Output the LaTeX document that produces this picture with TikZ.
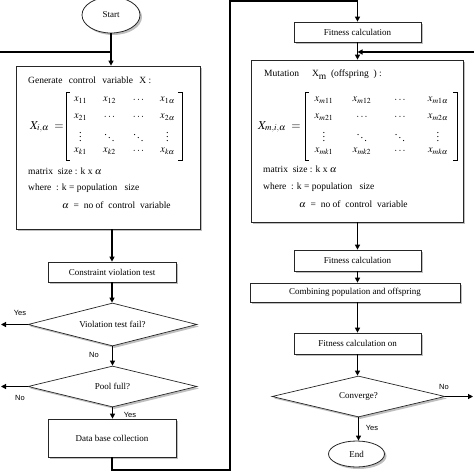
\documentclass[tikz,border=0pt]{standalone}
\usepackage{mathptmx}
\usepackage[no-math]{fontspec}
\setmainfont{Liberation Serif}
\newfontfamily\lblfont{Liberation Sans}
\usetikzlibrary{shapes.geometric,arrows.meta,shadows,matrix}
\newcommand\wsp{\hspace{6.5pt}}
\begin{document}
\begin{tikzpicture}[x=1pt,y=-1pt,
  shade/.style={drop shadow={shadow xshift=2pt,shadow yshift=-2pt,fill=black!50}},
  box/.style={draw=black!85, line width=0.7pt, fill=white, shade, inner sep=0pt, font=\fontsize{9}{11}\selectfont},
  dia/.style={diamond, aspect=4, draw=black!85, line width=0.7pt, fill=white, shade, inner sep=0pt, font=\fontsize{9}{11}\selectfont},
  oval/.style={ellipse, draw=black!85, line width=0.8pt, fill=white, shade, inner sep=0pt, font=\fontsize{9}{11}\selectfont},
  conn/.style={line width=1.2pt, -{Triangle[length=5pt,width=5pt]}},
  plain/.style={line width=1.2pt},
  lbl/.style={font=\lblfont\fontsize{7.5}{8}\selectfont, inner sep=0pt},
  txt/.style={anchor=west, inner sep=0pt, font=\fontsize{9.5}{11}\selectfont},
  mat/.style={matrix of math nodes, inner sep=0pt, row sep=0pt, column sep=0pt,
    nodes={anchor=center, inner sep=0pt, minimum height=17pt, font=\fontsize{10.5}{12}\selectfont}},
  brk/.style={line width=0.5pt}
]
\useasboundingbox (0,0) rectangle (474,474);

% ---------- left column ----------
\node[oval, minimum width=58pt, minimum height=36pt] (start) at (111,15) {Start};
\node[box, minimum width=184pt, minimum height=163pt] (gen) at (108,147.5) {};
\node[txt] (gtitle) at (28,80) {Generate\wsp control\wsp variable\wsp X :};
\matrix (ma) [mat, nodes={minimum width=29pt}] at (124,126) {
  x_{11} & x_{12} & \cdots & x_{1\alpha}\\
  x_{21} & \cdots & \cdots & x_{2\alpha}\\
  \vdots & \ddots & \ddots & \vdots\\
  x_{k1} & x_{k2} & \cdots & x_{k\alpha}\\
};
\draw[brk] ([xshift=4pt]ma.north west) -- (ma.north west) -- (ma.south west) -- ([xshift=4pt]ma.south west);
\draw[brk] ([xshift=-4pt]ma.north east) -- (ma.north east) -- (ma.south east) -- ([xshift=-4pt]ma.south east);
\node[anchor=east, inner sep=0pt, font=\fontsize{12}{14}\selectfont] (xl) at (64,127) {$X_{i,\alpha}\;=$};
\node[txt] (g1) at (28,171) {matrix\ \ size : k x $\alpha$};
\node[txt] (g2) at (28,188) {where\ \ : k = population\ \ \ size};
\node[txt] (g3) at (62,205) {$\alpha$\ \ =\ \ no of\ \ control\ \ variable};

\node[box, minimum width=128pt, minimum height=20pt] (cvt) at (112,272) {Constraint violation test};
\node[dia, minimum width=169pt, minimum height=43pt] (d1) at (112.5,324.5) {Violation test fail?};
\node[dia, minimum width=169pt, minimum height=41pt] (d2) at (112.5,386.5) {Pool full?};
\node[box, minimum width=128pt, minimum height=38pt] (db) at (112,438) {Data base collection};

% ---------- right column ----------
\node[box, minimum width=127pt, minimum height=20pt] (fit1) at (357.5,32) {Fitness calculation};
\node[box, minimum width=212pt, minimum height=162pt] (mut) at (357,141) {};
\node[txt] (mtitle) at (264,75) {Mutation\wsp\wsp X\raisebox{-3pt}{m}\ \ (offspring\ \ ) :};
\matrix (mb) [mat, nodes={minimum width=38pt}] at (381,126) {
  x_{m11} & x_{m12} & \cdots & x_{m1\alpha}\\
  x_{m21} & \cdots & \cdots & x_{m2\alpha}\\
  \vdots & \ddots & \ddots & \vdots\\
  x_{mk1} & x_{mk2} & \cdots & x_{mk\alpha}\\
};
\draw[brk] ([xshift=4pt]mb.north west) -- (mb.north west) -- (mb.south west) -- ([xshift=4pt]mb.south west);
\draw[brk] ([xshift=-4pt]mb.north east) -- (mb.north east) -- (mb.south east) -- ([xshift=-4pt]mb.south east);
\node[anchor=east, inner sep=0pt, font=\fontsize{12}{14}\selectfont] (xml) at (301,127) {$X_{m,i,\alpha}\;=$};
\node[txt] (m1) at (263,169) {matrix\ \ size : k x $\alpha$};
\node[txt] (m2) at (263,187) {where\ \ : k = population\ \ \ size};
\node[txt] (m3) at (299,204) {$\alpha$\ \ =\ \ no of\ \ control\ \ variable};

\node[box, minimum width=127pt, minimum height=21pt] (fit2) at (357.5,260.5) {Fitness calculation};
\node[box, minimum width=210pt, minimum height=19pt] (comb) at (355,292.5) {Combining population and offspring};
\node[box, minimum width=127pt, minimum height=21pt] (fit3) at (357.5,343.5) {Fitness calculation on};
\node[dia, minimum width=173pt, minimum height=41pt] (conv) at (358.5,396.5) {Converge?};
\node[oval, minimum width=56pt, minimum height=26pt] (end) at (356.5,454) {End};

% ---------- free ends ----------
\coordinate (lt) at (0,52);
\coordinate (yesend) at (1,324.5);
\coordinate (noend) at (1,386.5);
\coordinate (lr) at (230,470);
\coordinate (tr) at (230,1);
\coordinate (rt) at (474,52);
\coordinate (rno) at (473,396.5);

% ---------- connectors ----------
\draw[conn] (start.south) -- (start.south |- gen.north);
\draw[plain] (lt) -- (lt -| start.south);
\draw[conn] (cvt.north |- gen.south) -- (cvt.north);
\draw[conn] (cvt.south) -- (cvt.south |- d1.north);
\draw[conn] (d1.south) -- (d2.north);
\draw[conn] (d2.south) -- (d2.south |- db.north);
\draw[conn] (d1.west) -- (yesend);
\draw[conn] (d2.west) -- (noend);
\draw[conn] (db.south) |- (lr) |- (fit1.north |- tr) -- (fit1.north);

\draw[conn] (fit1.south) -- (fit1.south |- mut.north);
\draw[conn] (rt) -- (rt -| fit1.south);
\draw[conn] (fit2.north |- mut.south) -- (fit2.north);
\draw[conn] (fit2.south) -- (fit2.south |- comb.north);
\draw[conn] (fit3.north |- comb.south) -- (fit3.north);
\draw[conn] (fit3.south) -- (fit3.south |- conv.north);
\draw[conn] (conv.east) -- (rno);
\draw[conn] (conv.south) -- (conv.south |- end.north);

% ---------- labels ----------
\node[lbl] (lyes1) at (20,313) {Yes};
\node[lbl] (lno1) at (94,355) {No};
\node[lbl] (lno2) at (20,398) {No};
\node[lbl] (lyes2) at (130,415) {Yes};
\node[lbl] (lno3) at (444,387) {No};
\node[lbl] (lyes3) at (372,428) {Yes};
\end{tikzpicture}
\end{document}
